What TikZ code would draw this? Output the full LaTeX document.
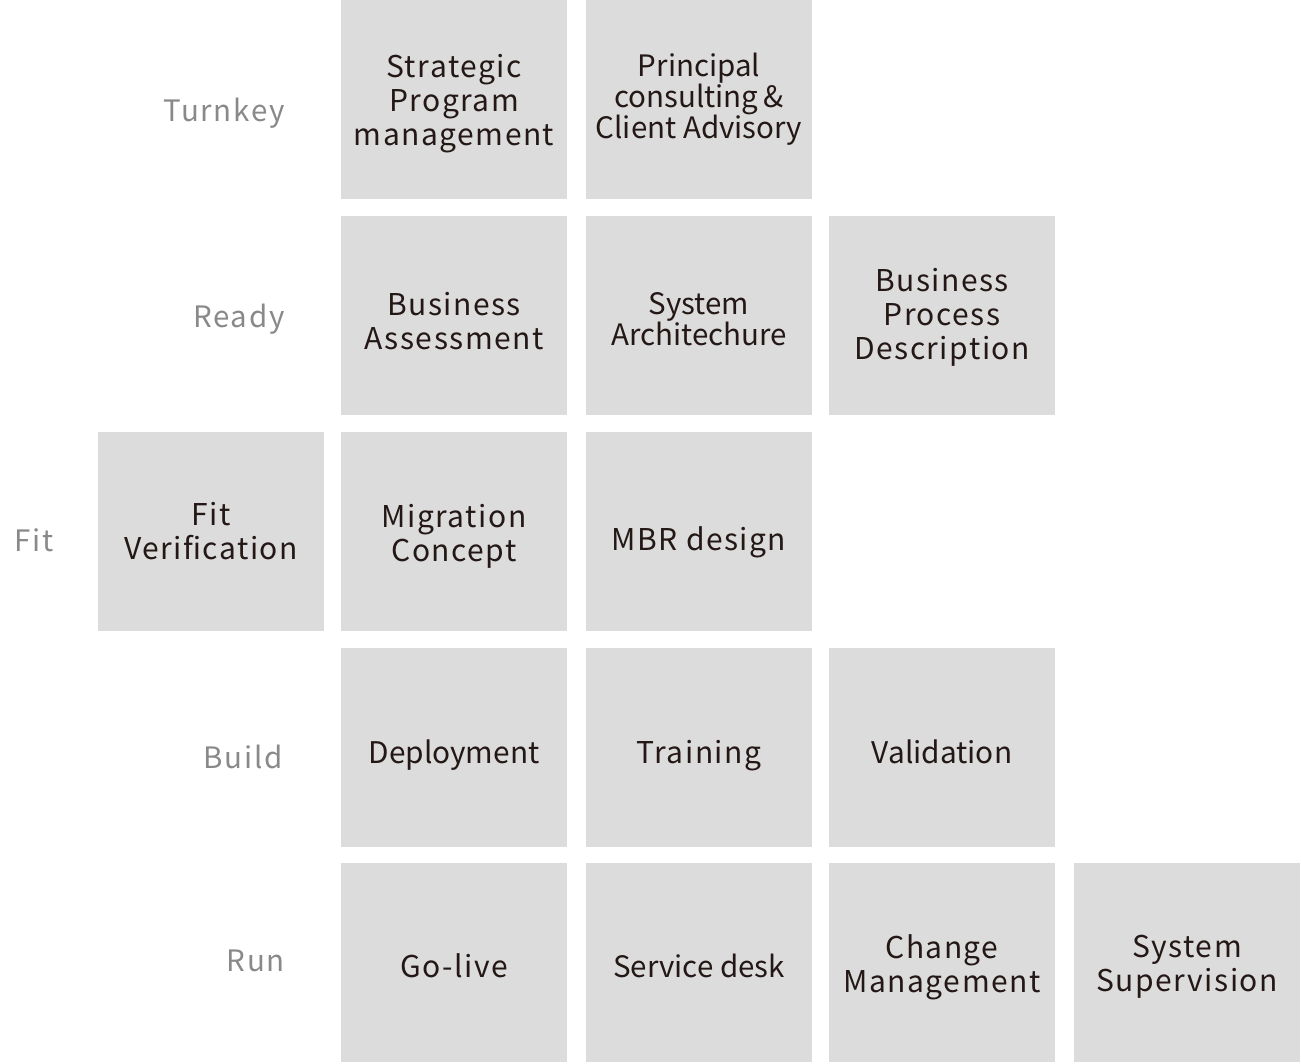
\documentclass[tikz,border=0pt]{standalone}
\usepackage{fontspec}
\setmainfont{Noto Sans CJK JP}
\newfontfamily\cellfont[LetterSpace=5]{Noto Sans CJK JP}
\newfontfamily\labfont[LetterSpace=6]{Noto Sans CJK JP}
\definecolor{boxfill}{HTML}{DCDCDC}
\definecolor{boxtext}{HTML}{231815}
\definecolor{labgray}{HTML}{898989}
\tikzset{
  cellbox/.style={fill=boxfill, draw=none, minimum width=226pt, minimum height=199pt, inner sep=0pt},
  celltxt/.style={align=center, text=boxtext, inner sep=0pt,
    font=\cellfont\fontsize{30}{34}\selectfont,
    execute at begin node=\strut, execute at end node=\strut},
  smalltxt/.style={celltxt, font=\fontsize{29.5}{31}\selectfont},
  plaintxt/.style={celltxt, font=\fontsize{29.8}{34}\selectfont},
  phase/.style={text=labgray, font=\labfont\fontsize{29.5}{34}\selectfont, inner sep=0pt, anchor=base east}
}
% #1 text style, #2 name, #3 x, #4 y, #5 downward text shift, #6 text
\newcommand\cellnode[6]{%
  \node[cellbox] (#2) at (#3,#4) {};
  \node[#1] (#2-t) at ([yshift=-#5pt]#2.center) {#6};
}
\begin{document}
\begin{tikzpicture}[x=1pt,y=-1pt]
\useasboundingbox (0,0) rectangle (1301,1063);
% row 1
\cellnode{celltxt}{spm}{454}{99.5}{5.4}{Strategic\\Program\\management}
\cellnode{smalltxt}{pcc}{699}{99.5}{1}{Principal\\consulting\,\&\\Client Advisory}
% row 2
\cellnode{celltxt}{ba}{454}{315.5}{10.2}{Business\\Assessment}
\cellnode{smalltxt}{sa}{699}{315.5}{8}{System\\Architechure}
\cellnode{celltxt}{bpd}{942}{315.5}{3.7}{Business\\Process\\Description}
% row 3
\cellnode{celltxt}{fv}{211}{531}{5}{Fit\\Verification}
\cellnode{celltxt}{mc}{454}{531}{7.2}{Migration\\Concept}
\cellnode{celltxt}{mbr}{699}{531}{12.5}{MBR design}
% row 4
\cellnode{plaintxt}{dep}{454}{747}{9.2}{Deployment}
\cellnode{celltxt}{tr}{699}{747}{9.2}{Training}
\cellnode{plaintxt}{val}{942}{747}{9.2}{Validation}
% row 5
\cellnode{celltxt}{gl}{454}{962.5}{7.7}{Go-live}
\cellnode{smalltxt}{sd}{699}{962.5}{7.8}{Service desk}
\cellnode{celltxt}{cm}{942}{962.5}{6.2}{Change\\Management}
\cellnode{celltxt}{ss}{1187}{962.5}{6.2}{System\\Supervision}
% phase labels
\node[phase] (pturn) at (285,121.7) {Turnkey};
\node[phase] (pready) at (285,327) {Ready};
\node[phase, anchor=base west] (pfit) at (14,551.7) {Fit};
\node[phase] (pbuild) at (283,768) {Build};
\node[phase] (prun) at (285,971) {Run};
\end{tikzpicture}
\end{document}
